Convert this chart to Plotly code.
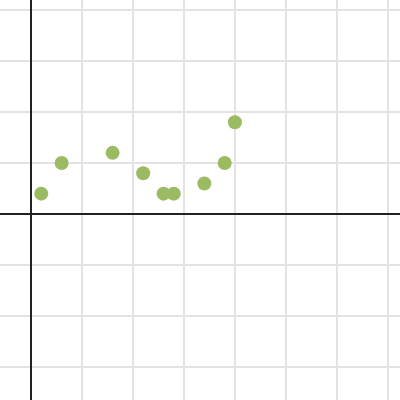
import plotly.graph_objects as go

x_vals = [0.2, 0.6, 1.6, 2.2, 2.6, 2.8, 3.4, 3.8, 4.0]
y_vals = [0.4, 1.0, 1.2, 0.8, 0.4, 0.4, 0.6, 1.0, 1.8]

fig = go.Figure(go.Scatter(x=x_vals, y=y_vals, mode="markers",
                           marker=dict(size=14, color="#9bbb62")))

# darker major grid lines
for v in [4]:
    fig.add_shape(type="line", x0=v, x1=v, y0=0, y1=1, yref="paper",
                  line=dict(color="#a8a8a8", width=1.5), layer="between")
    fig.add_shape(type="line", y0=v, y1=v, x0=0, x1=1, xref="paper",
                  line=dict(color="#a8a8a8", width=1.5), layer="between")

axis = dict(showticklabels=False, ticks="", dtick=1, gridcolor="#e3e3e3", gridwidth=1.5,
            zeroline=True, zerolinecolor="#222222", zerolinewidth=1.5, fixedrange=True)
fig.update_xaxes(range=[-0.61, 7.24], **axis)
fig.update_yaxes(range=[-3.65, 4.2], **axis)
fig.update_layout(width=400, height=400, margin=dict(l=0, r=0, t=0, b=0),
                  plot_bgcolor="white", paper_bgcolor="white", showlegend=False)
fig.write_html("out.html", config=dict(displayModeBar=False),
               post_script="document.body.style.margin='0';")
